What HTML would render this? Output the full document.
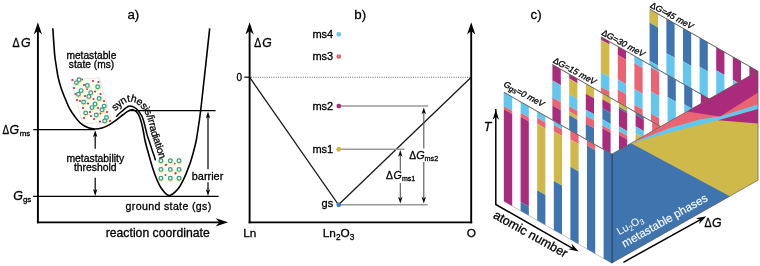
<!DOCTYPE html><html><head><meta charset="utf-8"><style>html,body{margin:0;padding:0;background:#fff;overflow:hidden;}svg{display:block}text{font-family:"Liberation Sans",Arial,sans-serif;stroke:#000;stroke-width:0.3px;stroke-linejoin:round;}</style></head><body>
<svg width="760" height="266" viewBox="0 0 760 266">
<g id="pa">
<line x1="37.9" y1="223.3" x2="37.9" y2="31" stroke="#000" stroke-width="1.9"/>
<polygon points="37.9,22.2 42,34.5 37.9,30.81 33.8,34.5" fill="#000"/>
<line x1="36.95" y1="222.35" x2="219" y2="222.35" stroke="#000" stroke-width="1.9"/>
<polygon points="228.1,222.35 215.6,226.45 219.35,222.35 215.6,218.25" fill="#000"/>
<line x1="33.3" y1="129.6" x2="95" y2="129.6" stroke="#000" stroke-width="1.3"/>
<line x1="33.1" y1="196.3" x2="218.6" y2="196.3" stroke="#000" stroke-width="1.3"/>
<line x1="131" y1="110.7" x2="215.6" y2="110.7" stroke="#000" stroke-width="1.3"/>
<polygon points="71.2,79.5 99.3,77.8 111.7,121.6 82.6,123.9" fill="#fefdf1" stroke="#dcdcdc" stroke-width="0.6"/>
<circle cx="72.5" cy="80" r="1.1" fill="#d9264f"/>
<circle cx="82" cy="79.5" r="1.1" fill="#d9264f"/>
<circle cx="74" cy="88" r="1.1" fill="#d9264f"/>
<circle cx="84" cy="85" r="1.1" fill="#d9264f"/>
<circle cx="93" cy="81" r="1.1" fill="#d9264f"/>
<circle cx="98.5" cy="82" r="1.1" fill="#d9264f"/>
<circle cx="87" cy="89" r="1.1" fill="#d9264f"/>
<circle cx="95" cy="91.5" r="1.1" fill="#d9264f"/>
<circle cx="75.5" cy="94" r="1.1" fill="#d9264f"/>
<circle cx="85" cy="96" r="1.1" fill="#d9264f"/>
<circle cx="100.5" cy="94" r="1.1" fill="#d9264f"/>
<circle cx="93.5" cy="99" r="1.1" fill="#d9264f"/>
<circle cx="80" cy="101" r="1.1" fill="#d9264f"/>
<circle cx="104" cy="101" r="1.1" fill="#d9264f"/>
<circle cx="88" cy="103.5" r="1.1" fill="#d9264f"/>
<circle cx="98" cy="108" r="1.1" fill="#d9264f"/>
<circle cx="83" cy="108" r="1.1" fill="#d9264f"/>
<circle cx="90" cy="112" r="1.1" fill="#d9264f"/>
<circle cx="107" cy="112" r="1.1" fill="#d9264f"/>
<circle cx="100.5" cy="113.5" r="1.1" fill="#d9264f"/>
<circle cx="84" cy="118" r="1.1" fill="#d9264f"/>
<circle cx="94" cy="119" r="1.1" fill="#d9264f"/>
<circle cx="110" cy="121" r="1.1" fill="#d9264f"/>
<circle cx="100" cy="121.5" r="1.1" fill="#d9264f"/>
<circle cx="77" cy="100" r="1.1" fill="#d9264f"/>
<circle cx="91" cy="116" r="1.1" fill="#d9264f"/>
<circle cx="79.3" cy="80.5" r="2.9" fill="#efdc6a" opacity="0.6"/>
<circle cx="76.7" cy="83.3" r="2.9" fill="#efdc6a" opacity="0.6"/>
<circle cx="87.6" cy="86.1" r="2.9" fill="#efdc6a" opacity="0.6"/>
<circle cx="98" cy="87.5" r="2.9" fill="#efdc6a" opacity="0.6"/>
<circle cx="81.4" cy="91.3" r="2.9" fill="#efdc6a" opacity="0.6"/>
<circle cx="78.7" cy="95" r="2.9" fill="#efdc6a" opacity="0.6"/>
<circle cx="91.1" cy="93.4" r="2.9" fill="#efdc6a" opacity="0.6"/>
<circle cx="89.1" cy="97.1" r="2.9" fill="#efdc6a" opacity="0.6"/>
<circle cx="99.4" cy="99.2" r="2.9" fill="#efdc6a" opacity="0.6"/>
<circle cx="83.9" cy="102.7" r="2.9" fill="#efdc6a" opacity="0.6"/>
<circle cx="95.3" cy="104.7" r="2.9" fill="#efdc6a" opacity="0.6"/>
<circle cx="92.2" cy="108.3" r="2.9" fill="#efdc6a" opacity="0.6"/>
<circle cx="104.5" cy="106.8" r="2.9" fill="#efdc6a" opacity="0.6"/>
<circle cx="102.4" cy="110.5" r="2.9" fill="#efdc6a" opacity="0.6"/>
<circle cx="86" cy="113.6" r="2.9" fill="#efdc6a" opacity="0.6"/>
<circle cx="96.6" cy="115.6" r="2.9" fill="#efdc6a" opacity="0.6"/>
<circle cx="106.8" cy="118.2" r="2.9" fill="#efdc6a" opacity="0.6"/>
<circle cx="104.9" cy="121.6" r="2.9" fill="#efdc6a" opacity="0.6"/>
<circle cx="79" cy="79.8" r="1.85" fill="#f4fbf6" stroke="#2a9f92" stroke-width="1.2"/>
<circle cx="76.4" cy="82.6" r="1.85" fill="#f4fbf6" stroke="#2a9f92" stroke-width="1.2"/>
<circle cx="87.3" cy="85.4" r="1.85" fill="#f4fbf6" stroke="#2a9f92" stroke-width="1.2"/>
<circle cx="97.7" cy="86.8" r="1.85" fill="#f4fbf6" stroke="#2a9f92" stroke-width="1.2"/>
<circle cx="81.1" cy="90.6" r="1.85" fill="#f4fbf6" stroke="#2a9f92" stroke-width="1.2"/>
<circle cx="78.4" cy="94.3" r="1.85" fill="#f4fbf6" stroke="#2a9f92" stroke-width="1.2"/>
<circle cx="90.8" cy="92.7" r="1.85" fill="#f4fbf6" stroke="#2a9f92" stroke-width="1.2"/>
<circle cx="88.8" cy="96.4" r="1.85" fill="#f4fbf6" stroke="#2a9f92" stroke-width="1.2"/>
<circle cx="99.1" cy="98.5" r="1.85" fill="#f4fbf6" stroke="#2a9f92" stroke-width="1.2"/>
<circle cx="83.6" cy="102" r="1.85" fill="#f4fbf6" stroke="#2a9f92" stroke-width="1.2"/>
<circle cx="95" cy="104" r="1.85" fill="#f4fbf6" stroke="#2a9f92" stroke-width="1.2"/>
<circle cx="91.9" cy="107.6" r="1.85" fill="#f4fbf6" stroke="#2a9f92" stroke-width="1.2"/>
<circle cx="104.2" cy="106.1" r="1.85" fill="#f4fbf6" stroke="#2a9f92" stroke-width="1.2"/>
<circle cx="102.1" cy="109.8" r="1.85" fill="#f4fbf6" stroke="#2a9f92" stroke-width="1.2"/>
<circle cx="85.7" cy="112.9" r="1.85" fill="#f4fbf6" stroke="#2a9f92" stroke-width="1.2"/>
<circle cx="96.3" cy="114.9" r="1.85" fill="#f4fbf6" stroke="#2a9f92" stroke-width="1.2"/>
<circle cx="106.5" cy="117.5" r="1.85" fill="#f4fbf6" stroke="#2a9f92" stroke-width="1.2"/>
<circle cx="104.6" cy="120.9" r="1.85" fill="#f4fbf6" stroke="#2a9f92" stroke-width="1.2"/>
<rect x="157.5" y="157.5" width="24.5" height="24" fill="#fdfcee"/>
<circle cx="161.2" cy="161.5" r="2.9" fill="#efdc6a" opacity="0.55"/>
<circle cx="160.9" cy="160.8" r="1.85" fill="#f4fbf6" stroke="#2a9f92" stroke-width="1.2"/>
<circle cx="170.6" cy="161.5" r="2.9" fill="#efdc6a" opacity="0.55"/>
<circle cx="170.3" cy="160.8" r="1.85" fill="#f4fbf6" stroke="#2a9f92" stroke-width="1.2"/>
<circle cx="179.3" cy="161.5" r="2.9" fill="#efdc6a" opacity="0.55"/>
<circle cx="179" cy="160.8" r="1.85" fill="#f4fbf6" stroke="#2a9f92" stroke-width="1.2"/>
<circle cx="161.2" cy="170.1" r="2.9" fill="#efdc6a" opacity="0.55"/>
<circle cx="160.9" cy="169.4" r="1.85" fill="#f4fbf6" stroke="#2a9f92" stroke-width="1.2"/>
<circle cx="170.6" cy="170.1" r="2.9" fill="#efdc6a" opacity="0.55"/>
<circle cx="170.3" cy="169.4" r="1.85" fill="#f4fbf6" stroke="#2a9f92" stroke-width="1.2"/>
<circle cx="179.3" cy="170.1" r="2.9" fill="#efdc6a" opacity="0.55"/>
<circle cx="179" cy="169.4" r="1.85" fill="#f4fbf6" stroke="#2a9f92" stroke-width="1.2"/>
<circle cx="161.2" cy="179" r="2.9" fill="#efdc6a" opacity="0.55"/>
<circle cx="160.9" cy="178.3" r="1.85" fill="#f4fbf6" stroke="#2a9f92" stroke-width="1.2"/>
<circle cx="170.6" cy="179" r="2.9" fill="#efdc6a" opacity="0.55"/>
<circle cx="170.3" cy="178.3" r="1.85" fill="#f4fbf6" stroke="#2a9f92" stroke-width="1.2"/>
<circle cx="179.3" cy="179" r="2.9" fill="#efdc6a" opacity="0.55"/>
<circle cx="179" cy="178.3" r="1.85" fill="#f4fbf6" stroke="#2a9f92" stroke-width="1.2"/>
<circle cx="165.5" cy="165.2" r="0.9" fill="#d9264f"/>
<circle cx="174.8" cy="163.6" r="0.9" fill="#d9264f"/>
<circle cx="165.5" cy="175" r="0.9" fill="#d9264f"/>
<circle cx="175.3" cy="173.5" r="0.9" fill="#d9264f"/>
<circle cx="166.3" cy="164.6" r="0.9" fill="#d9264f"/>
<circle cx="175.8" cy="173" r="0.9" fill="#d9264f"/>
<path d="M52.8,28.2 C53.12,32.67 54.12,48.65 54.7,55 C55.28,61.35 55.72,62.53 56.3,66.3 C56.88,70.07 57.35,73.83 58.2,77.6 C59.05,81.37 60.13,85.17 61.4,88.9 C62.67,92.63 64.43,96.72 65.8,100 C67.17,103.28 68.07,105.8 69.6,108.6 C71.13,111.4 73.1,114.3 75,116.8 C76.9,119.3 78.77,121.77 81,123.6 C83.23,125.43 86.07,126.9 88.4,127.8 C90.73,128.7 92.73,128.98 95,129 C97.27,129.02 99.57,128.63 102,127.9 C104.43,127.17 107.1,125.98 109.6,124.6 C112.1,123.22 114.72,121.28 117,119.6 C119.28,117.92 121.53,115.87 123.3,114.5 C125.07,113.13 126.2,112.17 127.6,111.4 C129,110.63 130.47,110.03 131.7,109.9 C132.93,109.77 133.98,110 135,110.6 C136.02,111.2 136.97,112.27 137.8,113.5 C138.63,114.73 139.33,116.25 140,118 C140.67,119.75 141.25,121.83 141.8,124 C142.35,126.17 142.78,128.33 143.3,131 C143.82,133.67 144.2,136.83 144.9,140 C145.6,143.17 146.6,146.67 147.5,150 C148.4,153.33 149.33,156.67 150.3,160 C151.27,163.33 152.25,166.83 153.3,170 C154.35,173.17 155.27,175.95 156.6,179 C157.93,182.05 159.52,185.65 161.3,188.3 C163.08,190.95 165.72,193.77 167.3,194.9 C168.88,196.03 169.48,195.62 170.8,195.1 C172.12,194.58 173.73,193.2 175.2,191.8 C176.67,190.4 178.27,188.63 179.6,186.7 C180.93,184.77 182.05,182.55 183.2,180.2 C184.35,177.85 185.27,175.67 186.5,172.6 C187.73,169.53 189.4,165.4 190.6,161.8 C191.8,158.2 192.75,154.63 193.7,151 C194.65,147.37 195.5,144.17 196.3,140 C197.1,135.83 197.67,131.83 198.5,126 C199.33,120.17 199.43,121.28 201.3,105 C203.17,88.72 208.3,41.08 209.7,28.3" fill="none" stroke="#000" stroke-width="1.6" stroke-linejoin="round"/>
<path d="M116.5,116.3 C117.05,115.75 118.67,114.03 119.8,113 C120.93,111.97 122.22,111 123.3,110.1 C124.38,109.2 125.4,108.23 126.3,107.6 C127.2,106.97 127.88,106.53 128.7,106.3 C129.52,106.07 130.35,106.07 131.2,106.2 C132.05,106.33 132.98,106.7 133.8,107.1 C134.62,107.5 135.4,108.05 136.1,108.6 C136.8,109.15 137.35,109.62 138,110.4 C138.65,111.18 139.35,112.33 140,113.3 C140.65,114.27 141.38,115.2 141.9,116.2 C142.42,117.2 142.72,118.17 143.1,119.3 C143.48,120.43 143.83,121.63 144.2,123 C144.57,124.37 144.93,126 145.3,127.5 C145.67,129 146.02,130.5 146.4,132 C146.78,133.5 147.13,135 147.6,136.5 C148.07,138 148.67,139.42 149.2,141 C149.73,142.58 150.27,144.33 150.8,146 C151.33,147.67 151.87,149.42 152.4,151 C152.93,152.58 153.52,154.05 154,155.5 C154.48,156.95 155.08,159 155.3,159.7" fill="none" stroke="#000" stroke-width="1.5" stroke-linecap="round"/>
<defs><path id="tp1" d="M109.31,117.47 C109.99,116.76 112.09,114.52 113.35,113.23 C114.6,111.94 115.65,110.83 116.84,109.75 C118.03,108.66 119.33,107.67 120.49,106.72 C121.64,105.76 122.6,104.78 123.77,104 C124.93,103.23 126.14,102.43 127.49,102.07 C128.84,101.71 130.51,101.67 131.88,101.85 C133.26,102.03 134.58,102.6 135.74,103.15 C136.89,103.7 137.88,104.4 138.82,105.14 C139.76,105.88 140.58,106.64 141.39,107.59 C142.19,108.54 142.91,109.75 143.65,110.84 C144.39,111.94 145.21,113.01 145.81,114.18 C146.41,115.35 146.83,116.61 147.27,117.89 C147.71,119.17 148.07,120.43 148.45,121.86 C148.83,123.29 149.21,124.95 149.57,126.46 C149.94,127.96 150.29,129.45 150.66,130.91 C151.03,132.37 151.35,133.75 151.8,135.19 C152.25,136.64 152.84,138.02 153.37,139.6 C153.9,141.17 154.46,142.99 154.99,144.66 C155.52,146.33 156.04,148.02 156.57,149.6 C157.1,151.17 157.69,152.64 158.17,154.11 C158.66,155.58 158.75,155.96 159.5,158.4 C160.26,160.83 162.17,166.98 162.7,168.69"/></defs>
<text font-size="10.3" fill="#000"><textPath href="#tp1" startOffset="8.6" textLength="86.5" lengthAdjust="spacing">synthesis/irradiation</textPath></text>
<line x1="95.2" y1="148.8" x2="95.2" y2="135" stroke="#000" stroke-width="1.2"/>
<polygon points="95.2,130.3 97.4,137.1 95.2,135.4 93,137.1" fill="#000"/>
<line x1="95.2" y1="177.7" x2="95.2" y2="191" stroke="#000" stroke-width="1.2"/>
<polygon points="95.2,195.9 93,189.1 95.2,190.8 97.4,189.1" fill="#000"/>
<line x1="208" y1="169.2" x2="208" y2="116" stroke="#000" stroke-width="1.2"/>
<polygon points="208,111.6 210.2,118.4 208,116.7 205.8,118.4" fill="#000"/>
<line x1="208" y1="182.3" x2="208" y2="191" stroke="#000" stroke-width="1.2"/>
<polygon points="208,196 205.8,189.2 208,190.9 210.2,189.2" fill="#000"/>
<text x="127.4" y="19.2" font-size="13.3">a)</text>
<text transform="translate(12.5,46.9) scale(0.86,1)" font-size="12.3">Δ</text><text x="20.9" y="46.9" font-size="12.3" font-style="italic">G</text>
<text transform="translate(2.4,133.5) scale(0.8,1)" font-size="12.3">Δ</text><text x="9.4" y="133.5" font-size="12.3" font-style="italic">G</text><text x="19.8" y="135.8" font-size="7.9">ms</text>
<text x="13.2" y="199.6" font-size="12.5"><tspan font-style="italic">G</tspan><tspan font-size="7.9" dy="2.3">gs</tspan></text>
<text x="91.4" y="58.7" font-size="10.2" text-anchor="middle">metastable</text>
<text x="91.5" y="68.3" font-size="10.2" text-anchor="middle">state (ms)</text>
<text x="95.25" y="161.6" font-size="10.4" text-anchor="middle">metastability</text>
<text x="95.25" y="171.3" font-size="10.4" text-anchor="middle">threshold</text>
<rect x="192" y="170" width="32" height="11.5" fill="#fff"/>
<text x="191.8" y="179.6" font-size="10.9">barrier</text>
<text x="125.6" y="209.6" font-size="10.6" textLength="85.6">ground state (gs)</text>
<text x="105.7" y="237.4" font-size="12.2" textLength="104">reaction coordinate</text>
</g>
<g id="pb">
<line x1="249.6" y1="223.3" x2="249.6" y2="31" stroke="#000" stroke-width="1.9"/>
<polygon points="249.6,22.2 253.7,34.5 249.6,30.81 245.5,34.5" fill="#000"/>
<line x1="471.2" y1="223.3" x2="471.2" y2="31" stroke="#000" stroke-width="1.9"/>
<polygon points="471.2,22.3 475.3,34.6 471.2,30.91 467.1,34.6" fill="#000"/>
<line x1="248.65" y1="222.35" x2="472.15" y2="222.35" stroke="#000" stroke-width="1.9"/>
<line x1="244.3" y1="77.2" x2="249.6" y2="77.2" stroke="#000" stroke-width="1.2"/>
<line x1="251" y1="77.25" x2="470" y2="77.25" stroke="#6a6a6a" stroke-width="1" stroke-dasharray="1 1.25"/>
<polyline points="249.6,77.2 338.5,204.8 471.2,77.2" fill="none" stroke="#1a1a1a" stroke-width="1.3"/>
<line x1="339" y1="106.1" x2="428.2" y2="106.1" stroke="#9a9a9a" stroke-width="1.5"/>
<line x1="339" y1="149.3" x2="404.7" y2="149.3" stroke="#9a9a9a" stroke-width="1.5"/>
<line x1="339" y1="204.8" x2="427.6" y2="204.8" stroke="#9a9a9a" stroke-width="1.5"/>
<circle cx="338.8" cy="34.3" r="2.4" fill="#62c6ee"/>
<circle cx="338.8" cy="56.6" r="2.4" fill="#eb6474"/>
<circle cx="338.8" cy="106.1" r="2.4" fill="#aa2a7c"/>
<circle cx="338.8" cy="149.3" r="2.4" fill="#cfb535"/>
<circle cx="338.8" cy="204.8" r="2.4" fill="#3d7cc4"/>
<text x="333.2" y="38.3" font-size="11" text-anchor="end">ms4</text>
<text x="333.2" y="59.9" font-size="11" text-anchor="end">ms3</text>
<text x="333.2" y="109.7" font-size="11" text-anchor="end">ms2</text>
<text x="333.2" y="153.1" font-size="11" text-anchor="end">ms1</text>
<text x="333.2" y="206.8" font-size="11" text-anchor="end">gs</text>
<line x1="400.3" y1="155" x2="400.3" y2="170.4" stroke="#555" stroke-width="1.1"/>
<polygon points="400.3,150 402.5,156.8 400.3,155.1 398.1,156.8" fill="#000"/>
<line x1="400.3" y1="183" x2="400.3" y2="198" stroke="#555" stroke-width="1.1"/>
<polygon points="400.3,203.6 398.1,196.8 400.3,198.5 402.5,196.8" fill="#000"/>
<line x1="423.8" y1="112.5" x2="423.8" y2="148.5" stroke="#555" stroke-width="1.1"/>
<polygon points="423.8,107.4 426,114.2 423.8,112.5 421.6,114.2" fill="#000"/>
<line x1="423.8" y1="162" x2="423.8" y2="198" stroke="#555" stroke-width="1.1"/>
<polygon points="423.8,203.6 421.6,196.8 423.8,198.5 426,196.8" fill="#000"/>
<text transform="translate(385.9,178.8) scale(0.98,1)" font-size="10.6">Δ</text><text x="393.6" y="178.8" font-size="10.6" font-style="italic">G</text><text x="401.9" y="181.4" font-size="7">ms1</text>
<text transform="translate(409.2,158.6) scale(0.95,1)" font-size="10.8">Δ</text><text x="416.3" y="158.6" font-size="10.8" font-style="italic">G</text><text x="424.6" y="161" font-size="7.2">ms2</text>
<text transform="translate(254.2,46.7) scale(0.86,1)" font-size="12.2">Δ</text><text x="262.2" y="46.7" font-size="12.2" font-style="italic">G</text>
<text x="236.6" y="80.7" font-size="10">0</text>
<text x="354.3" y="19.2" font-size="13.3">b)</text>
<text x="243.3" y="237.4" font-size="11.8">Ln</text>
<text x="322.8" y="237.4" font-size="11.8">Ln<tspan font-size="8.3" dy="2.4">2</tspan><tspan dy="-2.4">O</tspan><tspan font-size="8.3" dy="2.4">3</tspan></text>
<text x="466.8" y="237.4" font-size="11.8">O</text>
</g>
<g>
<polygon points="649.8,9.2 757.8,71.19 757.8,180.19 649.8,118.2" fill="#fff" stroke="#9a9a9a" stroke-width="0.6"/>
<polygon points="649.8,9.2 658,13.91 658,27.41 649.8,22.7" fill="#cfb94a"/>
<polygon points="649.8,22.7 658,27.41 658,65.61 649.8,60.9" fill="#3f74ae"/>
<polygon points="649.8,60.9 658,65.61 658,122.91 649.8,118.2" fill="#62c6ee"/>
<polygon points="666.4,18.73 674.6,23.44 674.6,57.84 666.4,53.13" fill="#3f74ae"/>
<polygon points="666.4,53.13 674.6,57.84 674.6,132.44 666.4,127.73" fill="#62c6ee"/>
<polygon points="683,28.26 691.2,32.96 691.2,65.96 683,61.26" fill="#3f74ae"/>
<polygon points="683,61.26 691.2,65.96 691.2,141.96 683,137.26" fill="#62c6ee"/>
<polygon points="699.6,37.79 707.8,42.49 707.8,71.49 699.6,66.79" fill="#3f74ae"/>
<polygon points="699.6,66.79 707.8,71.49 707.8,151.49 699.6,146.79" fill="#62c6ee"/>
<polygon points="716.2,47.31 724.4,52.02 724.4,75.02 716.2,70.31" fill="#aa2a7c"/>
<polygon points="716.2,70.31 724.4,75.02 724.4,161.02 716.2,156.31" fill="#62c6ee"/>
<polygon points="732.8,56.84 741,61.55 741,84.55 732.8,79.84" fill="#aa2a7c"/>
<polygon points="732.8,79.84 741,84.55 741,170.55 732.8,165.84" fill="#62c6ee"/>
<polygon points="749.4,66.37 757.6,71.08 757.6,180.08 749.4,175.37" fill="#aa2a7c"/>
<line x1="649.8" y1="9.2" x2="757.8" y2="71.19" stroke="#555" stroke-width="0.8"/>
</g>
<g>
<polygon points="601.2,36.9 709.2,98.89 709.2,207.89 601.2,145.9" fill="#fff" stroke="#9a9a9a" stroke-width="0.6"/>
<polygon points="601.2,36.9 609.4,41.61 609.4,44.61 601.2,39.9" fill="#aa2a7c"/>
<polygon points="601.2,39.9 609.4,44.61 609.4,77.11 601.2,72.4" fill="#cfb94a"/>
<polygon points="601.2,72.4 609.4,77.11 609.4,91.61 601.2,86.9" fill="#62c6ee"/>
<polygon points="601.2,86.9 609.4,91.61 609.4,150.61 601.2,145.9" fill="#eb6474"/>
<polygon points="617.8,46.43 626,51.14 626,59.64 617.8,54.93" fill="#aa2a7c"/>
<polygon points="617.8,54.93 626,59.64 626,84.14 617.8,79.43" fill="#eb6474"/>
<polygon points="617.8,79.43 626,84.14 626,94.14 617.8,89.43" fill="#62c6ee"/>
<polygon points="617.8,89.43 626,94.14 626,160.14 617.8,155.43" fill="#eb6474"/>
<polygon points="634.4,55.96 642.6,60.66 642.6,67.96 634.4,63.26" fill="#62c6ee"/>
<polygon points="634.4,63.26 642.6,67.96 642.6,93.66 634.4,88.96" fill="#eb6474"/>
<polygon points="634.4,88.96 642.6,93.66 642.6,109.46 634.4,104.76" fill="#62c6ee"/>
<polygon points="634.4,104.76 642.6,109.46 642.6,169.66 634.4,164.96" fill="#eb6474"/>
<polygon points="651,65.49 659.2,70.19 659.2,72.19 651,67.49" fill="#62c6ee"/>
<polygon points="651,67.49 659.2,72.19 659.2,96.19 651,91.49" fill="#eb6474"/>
<polygon points="651,91.49 659.2,96.19 659.2,118.19 651,113.49" fill="#62c6ee"/>
<polygon points="651,113.49 659.2,118.19 659.2,179.19 651,174.49" fill="#eb6474"/>
<polygon points="667.6,75.01 675.8,79.72 675.8,101.72 667.6,97.01" fill="#3f74ae"/>
<polygon points="667.6,97.01 675.8,101.72 675.8,126.22 667.6,121.51" fill="#62c6ee"/>
<polygon points="667.6,121.51 675.8,126.22 675.8,188.72 667.6,184.01" fill="#eb6474"/>
<polygon points="684.2,84.54 692.4,89.25 692.4,108.95 684.2,104.24" fill="#3f74ae"/>
<polygon points="684.2,104.24 692.4,108.95 692.4,198.25 684.2,193.54" fill="#62c6ee"/>
<polygon points="700.8,94.07 709,98.78 709,207.78 700.8,203.07" fill="#aa2a7c"/>
<line x1="601.2" y1="36.9" x2="709.2" y2="98.89" stroke="#555" stroke-width="0.8"/>
</g>
<g>
<polygon points="552.6,64.6 660.6,126.59 660.6,235.59 552.6,173.6" fill="#fff" stroke="#9a9a9a" stroke-width="0.6"/>
<polygon points="552.6,64.6 560.8,69.31 560.8,85.31 552.6,80.6" fill="#aa2a7c"/>
<polygon points="552.6,80.6 560.8,85.31 560.8,102.31 552.6,97.6" fill="#62c6ee"/>
<polygon points="552.6,97.6 560.8,102.31 560.8,110.31 552.6,105.6" fill="#eb6474"/>
<polygon points="552.6,105.6 560.8,110.31 560.8,178.31 552.6,173.6" fill="#aa2a7c"/>
<polygon points="569.2,74.13 577.4,78.84 577.4,83.24 569.2,78.53" fill="#aa2a7c"/>
<polygon points="569.2,78.53 577.4,83.24 577.4,99.04 569.2,94.33" fill="#cfb94a"/>
<polygon points="569.2,94.33 577.4,99.04 577.4,111.04 569.2,106.33" fill="#62c6ee"/>
<polygon points="569.2,106.33 577.4,111.04 577.4,116.24 569.2,111.53" fill="#eb6474"/>
<polygon points="569.2,111.53 577.4,116.24 577.4,119.84 569.2,115.13" fill="#cfb94a"/>
<polygon points="569.2,115.13 577.4,119.84 577.4,187.84 569.2,183.13" fill="#3f74ae"/>
<polygon points="585.8,83.66 594,88.36 594,98.36 585.8,93.66" fill="#cfb94a"/>
<polygon points="585.8,93.66 594,98.36 594,114.36 585.8,109.66" fill="#aa2a7c"/>
<polygon points="585.8,109.66 594,114.36 594,120.36 585.8,115.66" fill="#62c6ee"/>
<polygon points="585.8,115.66 594,120.36 594,128.36 585.8,123.66" fill="#eb6474"/>
<polygon points="585.8,123.66 594,128.36 594,197.36 585.8,192.66" fill="#3f74ae"/>
<polygon points="602.4,93.19 610.6,97.89 610.6,103.89 602.4,99.19" fill="#cfb94a"/>
<polygon points="602.4,99.19 610.6,103.89 610.6,112.89 602.4,108.19" fill="#aa2a7c"/>
<polygon points="602.4,108.19 610.6,112.89 610.6,123.89 602.4,119.19" fill="#3f74ae"/>
<polygon points="602.4,119.19 610.6,123.89 610.6,129.89 602.4,125.19" fill="#62c6ee"/>
<polygon points="602.4,125.19 610.6,129.89 610.6,132.89 602.4,128.19" fill="#eb6474"/>
<polygon points="602.4,128.19 610.6,132.89 610.6,206.89 602.4,202.19" fill="#aa2a7c"/>
<polygon points="619,102.71 627.2,107.42 627.2,111.42 619,106.71" fill="#cfb94a"/>
<polygon points="619,106.71 627.2,111.42 627.2,113.22 619,108.51" fill="#3f74ae"/>
<polygon points="619,108.51 627.2,113.22 627.2,131.12 619,126.41" fill="#aa2a7c"/>
<polygon points="619,126.41 627.2,131.12 627.2,135.82 619,131.11" fill="#62c6ee"/>
<polygon points="619,131.11 627.2,135.82 627.2,139.62 619,134.91" fill="#eb6474"/>
<polygon points="619,134.91 627.2,139.62 627.2,216.42 619,211.71" fill="#aa2a7c"/>
<polygon points="635.6,112.24 643.8,116.95 643.8,119.45 635.6,114.74" fill="#3f74ae"/>
<polygon points="635.6,114.74 643.8,119.45 643.8,130.95 635.6,126.24" fill="#aa2a7c"/>
<polygon points="635.6,126.24 643.8,130.95 643.8,137.95 635.6,133.24" fill="#62c6ee"/>
<polygon points="635.6,133.24 643.8,137.95 643.8,225.95 635.6,221.24" fill="#cfb94a"/>
<polygon points="652.2,121.77 660.4,126.48 660.4,235.48 652.2,230.77" fill="#eb6474"/>
<line x1="552.6" y1="64.6" x2="660.6" y2="126.59" stroke="#555" stroke-width="0.8"/>
</g>
<g>
<polygon points="504,92.3 612,154.29 612,263.29 504,201.3" fill="#fff" stroke="#9a9a9a" stroke-width="0.6"/>
<polygon points="504,92.3 512.2,97.01 512.2,111.01 504,106.3" fill="#62c6ee"/>
<polygon points="504,106.3 512.2,111.01 512.2,114.01 504,109.3" fill="#eb6474"/>
<polygon points="504,109.3 512.2,114.01 512.2,206.01 504,201.3" fill="#aa2a7c"/>
<polygon points="520.6,101.83 528.8,106.54 528.8,117.54 520.6,112.83" fill="#62c6ee"/>
<polygon points="520.6,112.83 528.8,117.54 528.8,121.54 520.6,116.83" fill="#eb6474"/>
<polygon points="520.6,116.83 528.8,121.54 528.8,206.54 520.6,201.83" fill="#aa2a7c"/>
<polygon points="520.6,201.83 528.8,206.54 528.8,215.54 520.6,210.83" fill="#3f74ae"/>
<polygon points="537.2,111.36 545.4,116.06 545.4,122.56 537.2,117.86" fill="#62c6ee"/>
<polygon points="537.2,117.86 545.4,122.56 545.4,128.56 537.2,123.86" fill="#eb6474"/>
<polygon points="537.2,123.86 545.4,128.56 545.4,195.06 537.2,190.36" fill="#cfb94a"/>
<polygon points="537.2,190.36 545.4,195.06 545.4,225.06 537.2,220.36" fill="#3f74ae"/>
<polygon points="553.8,120.89 562,125.59 562,129.39 553.8,124.69" fill="#62c6ee"/>
<polygon points="553.8,124.69 562,129.39 562,136.09 553.8,131.39" fill="#eb6474"/>
<polygon points="553.8,131.39 562,136.09 562,185.59 553.8,180.89" fill="#cfb94a"/>
<polygon points="553.8,180.89 562,185.59 562,234.59 553.8,229.89" fill="#3f74ae"/>
<polygon points="570.4,130.41 578.6,135.12 578.6,144.12 570.4,139.41" fill="#eb6474"/>
<polygon points="570.4,139.41 578.6,144.12 578.6,171.42 570.4,166.71" fill="#cfb94a"/>
<polygon points="570.4,166.71 578.6,171.42 578.6,244.12 570.4,239.41" fill="#3f74ae"/>
<polygon points="587,139.94 595.2,144.65 595.2,150.25 587,145.54" fill="#eb6474"/>
<polygon points="587,145.54 595.2,150.25 595.2,253.65 587,248.94" fill="#3f74ae"/>
<polygon points="603.6,149.47 611.8,154.18 611.8,263.18 603.6,258.47" fill="#3f74ae"/>
<line x1="504" y1="92.3" x2="612" y2="154.29" stroke="#555" stroke-width="0.8"/>
</g>
<polygon points="612,153.99 758,71.19 758,180.19 612,262.99" fill="#cfb94a"/>
<polygon points="612,262.99 612,153.99 631,143.22 729.8,196.18" fill="#3f74ae"/>
<polygon points="631,143.22 758,71.19 758,104.6 720,116.5 700,119.6 670,127.9" fill="#eb6474"/>
<polygon points="687,111.46 758,71.19 758,92.4 720,116.5" fill="#aa2a7c"/>
<polygon points="631,143.22 670,127.9 700,119.6 720,116.5 758,104.6 758,108.9 718,120.2 700,124.8 670,132.4" fill="#62c6ee"/>
<polygon points="718,120.2 758,108.9 758,123.4" fill="#aa2a7c"/>
<polygon points="612,153.99 758,71.19 758,180.19 612,262.99" fill="none" stroke="#555" stroke-width="0.6"/>
<line x1="612" y1="153.99" x2="612" y2="262.99" stroke="#1d3a5e" stroke-width="1"/>
<polyline points="495.8,109 495.8,204.5 573,248.6" fill="none" stroke="#000" stroke-width="1.5"/>
<polygon points="495.8,109.8 499,119.8 495.8,116.8 492.6,119.8" fill="#000"/>
<polygon points="578.7,251.5 568.42,249.35 572.61,248.05 571.58,243.78" fill="#000"/>
<line x1="623.4" y1="262.3" x2="700" y2="219.8" stroke="#000" stroke-width="1.5"/>
<polygon points="706.3,216.3 699.11,223.95 700.18,219.7 696,218.35" fill="#000"/>
<text x="483.8" y="130.8" font-size="12.5" font-style="italic">T</text>
<text transform="translate(704.5,227) scale(0.86,1)" font-size="12.3">Δ</text><text x="712.1" y="227" font-size="12.3" font-style="italic">G</text>
<text x="530.5" y="18.6" font-size="13.3">c)</text>
<text transform="translate(492.4,217.6) rotate(29.12)" font-size="12.5">atomic number</text>
<text transform="translate(619.3,235.3) rotate(-29.56)" font-size="10.6" fill="#fff" style="stroke:none">Lu<tspan font-size="7.6" dy="2.2">2</tspan><tspan dy="-2.2">O</tspan><tspan font-size="7.6" dy="2.2">3</tspan></text>
<text transform="translate(624.6,247.8) rotate(-29.56)" font-size="11.5" fill="#fff" style="stroke:#fff;stroke-width:0.12px">metastable phases</text>
<text transform="translate(503,86) rotate(28.5)" font-size="8.7" font-style="italic">G<tspan font-size="7.4" dy="1.2">gs</tspan><tspan dy="-1.2">=0 meV</tspan></text>
<text transform="translate(552.4,62.3) rotate(28.5)" font-size="8.7" font-style="italic"><tspan font-style="normal">Δ</tspan>G=15 meV</text>
<text transform="translate(601,34.6) rotate(28.5)" font-size="8.7" font-style="italic"><tspan font-style="normal">Δ</tspan>G=30 meV</text>
<text transform="translate(649.6,6.9) rotate(28.5)" font-size="8.7" font-style="italic"><tspan font-style="normal">Δ</tspan>G=45 meV</text>
</svg></body></html>
